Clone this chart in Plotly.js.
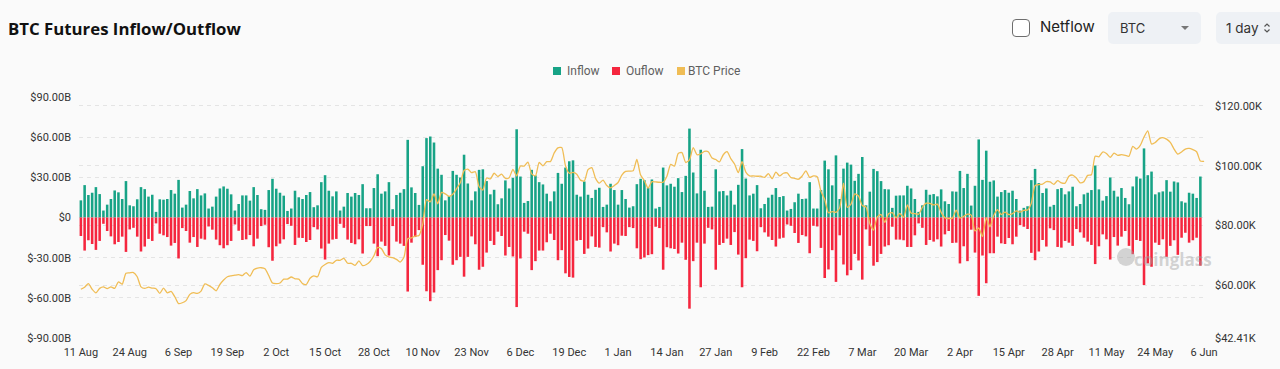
<!DOCTYPE html>
<html>
<head>
<meta charset="utf-8">
<script src="https://cdn.plot.ly/plotly-3.0.1.min.js"></script>
<style>
html,body{margin:0;padding:0;background:#fafafa;}
#wrap{position:relative;width:1280px;height:369px;overflow:hidden;background:#fafafa;}
#chart{position:absolute;left:0;top:0;width:1280px;height:369px;}
.ui{position:absolute;font-family:'Inter','Roboto',sans-serif;color:#222;}
#cb{left:1012px;top:19px;width:16px;height:16px;border:1.5px solid #6e6e6e;border-radius:4px;background:#fff;}
#nf{left:1040px;top:17px;font-size:15px;line-height:20px;}
#sel1{left:1108px;top:12px;width:93px;height:32px;background:#eef1f5;border-radius:5px;}
#sel1 span{position:absolute;left:12px;top:8px;font-size:13px;line-height:16px;color:#333;}
#sel1 i{position:absolute;left:73px;top:14px;width:0;height:0;border-left:4px solid transparent;border-right:4px solid transparent;border-top:4px solid #777;}
#sel2{left:1216px;top:12px;width:80px;height:32px;background:#eef1f5;border-radius:5px;}
#sel2 span{position:absolute;left:10px;top:8px;font-size:13.5px;line-height:16px;color:#333;}
#sel2 svg{position:absolute;left:47px;top:10px;}
</style>
</head>
<body>
<div id="wrap">
  <div id="chart"></div>
  <div class="ui" id="cb"></div>
  <div class="ui" id="nf">Netflow</div>
  <div class="ui" id="sel1"><span>BTC</span><i></i></div>
  <div class="ui" id="sel2"><span>1 day</span>
    <svg width="8" height="12" viewBox="0 0 8 12"><path d="M1.5 4.5 L4 2 L6.5 4.5 M1.5 7.5 L4 10 L6.5 7.5" fill="none" stroke="#555" stroke-width="1.2"/></svg>
  </div>
</div>
<script>
// ---- data (billions USD, K USD) ----
const startDate = '2024-08-11';

const inflow = [
12.8,24.2,16.8,18.5,22.7,17.5,5.2,9.6,13.8,20.2,18.8,13.8,27.2,9.1,8.4,13.6,22.7,21.2,15.6,17.0,4.2,13.6,13.3,13.8,20.5,17.8,28.1,7.4,9.6,19.8,14.3,21.2,16.5,18.0,6.7,8.1,15.6,
21.7,23.2,21.5,17.3,5.2,10.1,16.5,16.5,12.6,22.7,16.8,6.2,5.7,20.5,28.9,21.5,18.5,16.3,4.9,6.7,20.0,15.1,13.8,16.8,19.0,7.7,9.1,26.4,31.6,20.0,15.8,19.5,5.2,8.1,18.3,15.6,18.3,
16.8,24.9,6.9,6.9,22.0,32.3,17.8,19.5,26.4,6.2,16.8,18.5,21.2,58.0,22.5,18.3,9.4,38.3,59.3,60.5,56.0,36.5,31.9,12.8,16.0,34.8,31.9,29.9,46.9,25.4,12.8,19.5,35.6,36.0,27.2,17.3,20.7,
9.9,14.3,27.7,21.7,29.6,65.9,30.6,10.9,12.3,35.6,31.4,26.4,24.7,17.8,12.1,19.5,33.3,25.2,37.3,42.0,42.7,17.0,15.6,26.9,17.0,14.6,20.7,22.2,7.9,9.6,25.2,20.5,9.6,20.5,13.8,7.4,8.4,
24.9,28.9,27.9,22.2,28.4,6.7,7.9,37.3,24.0,25.2,23.0,29.4,19.0,31.1,66.4,33.6,18.0,50.6,20.0,7.9,8.1,36.0,19.5,19.8,16.5,20.0,9.6,24.4,51.1,29.1,16.5,17.8,24.2,6.9,10.1,14.8,17.0,22.0,
15.3,16.0,5.2,6.4,11.4,17.8,13.8,14.1,26.4,6.7,6.7,20.5,42.5,36.0,24.0,46.4,13.8,36.5,41.0,39.5,27.4,32.6,45.2,9.1,19.3,36.3,34.6,27.2,21.2,21.0,7.2,16.3,16.5,16.5,23.7,21.7,13.8,
4.2,9.1,20.7,17.0,17.5,15.8,21.0,12.1,10.1,19.5,19.3,34.8,22.0,32.6,8.9,23.7,58.3,28.1,49.9,26.7,27.7,15.6,19.0,20.5,18.5,20.0,13.8,5.2,7.2,8.4,27.9,36.3,25.7,18.3,21.7,8.1,9.4,21.2,
22.0,17.3,19.5,23.0,8.4,10.1,17.3,18.5,20.5,38.8,21.0,12.6,16.0,29.9,20.0,15.6,22.0,14.6,9.9,23.2,30.6,29.1,51.6,31.6,34.3,17.3,18.8,19.5,27.9,19.3,26.9,26.2,12.1,11.1,18.5,17.8,14.6,30.6
];

const outflow = [
13.8,24.7,17.0,19.8,24.2,17.5,4.7,10.1,14.1,20.0,18.3,14.3,25.7,8.9,7.7,14.3,25.4,21.7,16.0,17.5,4.4,12.1,13.3,14.6,21.0,19.0,30.6,7.9,10.1,18.8,14.6,22.0,15.8,16.5,6.7,9.1,16.5,
20.7,23.0,20.7,17.5,5.2,9.9,16.8,16.3,13.1,21.5,15.8,6.4,5.4,22.2,32.3,21.5,19.5,16.3,4.9,6.2,20.5,15.1,15.3,18.3,16.8,7.2,8.9,23.2,31.4,19.5,16.5,16.0,4.7,7.7,16.5,19.0,20.0,
16.3,26.9,6.4,6.4,19.5,28.9,18.0,21.2,28.4,6.4,18.0,19.5,21.2,55.3,18.8,14.6,9.4,35.3,55.1,62.5,56.0,39.3,31.9,13.1,17.3,35.3,31.9,29.4,44.2,29.4,14.1,20.0,39.0,36.8,26.2,17.5,20.5,
10.6,13.8,28.4,22.0,29.1,66.9,30.6,10.6,12.1,39.3,32.6,24.7,24.7,18.5,12.1,16.8,31.9,24.4,41.7,44.4,44.9,17.3,16.8,27.2,23.2,14.1,22.0,22.5,7.2,11.1,25.4,19.5,20.7,13.6,13.8,7.2,7.9,
23.0,31.1,29.9,28.1,27.4,6.9,7.9,39.0,22.2,23.0,23.5,26.9,18.8,31.6,68.1,32.6,18.8,52.1,19.5,7.7,8.9,39.0,20.5,19.0,15.8,20.5,10.9,27.7,52.1,30.4,16.5,17.5,25.2,7.2,11.1,14.3,16.8,21.7,
15.8,15.1,5.2,6.2,11.6,19.0,13.1,14.1,26.7,6.2,6.7,22.7,45.2,38.8,24.4,48.1,13.3,35.1,43.2,39.3,27.2,32.1,46.4,8.9,21.2,36.0,33.3,27.2,21.7,20.7,6.9,16.5,16.5,17.0,22.0,22.0,13.3,
4.4,7.7,20.5,16.8,18.0,16.3,21.7,12.6,10.1,19.0,18.8,34.3,21.5,32.6,9.1,26.2,58.5,28.4,49.1,26.7,26.7,14.3,19.3,19.8,15.3,20.0,14.3,5.7,6.9,8.6,26.4,31.9,25.4,16.8,21.7,8.1,9.4,22.0,
22.5,17.5,18.8,21.2,8.6,11.1,15.1,18.0,20.5,34.8,21.5,12.6,16.3,31.4,14.6,21.0,14.3,10.1,21.2,27.4,16.8,17.5,50.4,34.3,36.8,18.8,20.5,16.3,29.4,21.2,17.0,27.9,15.1,11.4,18.8,17.0,15.1,36.0
];

const btcPrice = [
58.7,59.4,60.6,58.7,57.5,59.0,59.5,58.9,59.5,59.0,
61.2,60.4,64.1,64.2,64.3,62.9,59.5,59.0,59.4,59.1,
58.9,57.3,59.1,57.5,58.0,56.2,53.9,54.2,54.9,57.0,
57.6,57.3,58.1,60.5,60.0,59.2,58.2,60.3,61.8,62.9,
63.2,63.4,63.6,63.3,64.3,63.1,65.2,65.8,65.9,65.6,
63.3,60.8,60.6,60.8,62.1,62.1,62.8,62.2,62.1,60.6,
60.3,62.4,63.2,62.9,66.0,67.0,67.6,67.4,68.4,68.4,
69.0,67.4,67.4,66.7,68.2,66.6,67.0,68.0,69.9,72.7,
72.3,70.2,69.5,69.3,68.7,67.8,69.4,75.6,75.9,76.5,
76.7,80.5,88.7,87.9,90.6,87.3,91.1,90.6,89.8,90.5,
92.3,94.3,98.4,98.9,97.7,98.0,93.0,91.9,95.9,95.6,
97.5,96.4,97.2,95.8,96.0,98.8,96.6,99.9,99.9,101.2,
97.3,96.6,101.1,100.0,101.4,101.4,104.3,106.0,106.1,100.0,
97.5,97.8,97.2,95.2,94.9,98.7,99.4,95.8,94.2,95.2,
93.4,92.6,93.4,94.4,96.9,98.1,98.2,98.3,102.1,96.9,
95.0,92.5,94.7,94.6,94.5,94.5,96.5,100.5,99.9,104.1,
104.4,101.1,102.0,106.1,103.7,104.0,104.8,104.7,102.6,102.1,
101.3,103.7,104.7,102.4,100.6,97.7,101.4,97.9,96.6,96.6,
96.5,96.5,96.1,97.4,95.7,97.9,96.6,97.5,97.6,96.1,
95.8,95.5,96.6,98.3,96.1,96.6,96.3,91.5,88.7,84.3,
84.7,84.4,86.0,94.2,86.1,87.2,90.6,89.9,86.7,86.2,
80.7,78.5,82.9,83.7,81.1,84.0,84.3,82.6,84.1,82.7,
86.9,84.2,84.0,83.8,86.1,87.5,87.4,86.9,87.2,84.4,
82.6,82.3,82.5,85.2,82.5,83.1,83.8,83.5,78.2,79.2,
76.3,82.6,79.6,83.4,85.3,83.7,84.5,83.7,84.0,84.9,
84.5,85.1,85.2,87.5,93.4,93.7,93.9,94.7,94.6,93.8,
95.0,94.3,94.2,96.5,96.9,95.9,94.3,94.7,96.8,97.0,
103.2,103.0,104.6,104.1,102.8,104.2,103.5,103.7,103.5,103.2,
106.5,105.6,106.8,109.6,111.7,107.3,107.8,109.0,109.4,108.9,
107.8,105.6,103.9,104.6,105.6,105.8,105.4,104.7,101.6,101.5
];

const tickDates = ['2024-08-11','2024-08-24','2024-09-06','2024-09-19','2024-10-02','2024-10-15','2024-10-28','2024-11-10','2024-11-23','2024-12-06','2024-12-19','2025-01-01','2025-01-14','2025-01-27','2025-02-09','2025-02-22','2025-03-07','2025-03-20','2025-04-02','2025-04-15','2025-04-28','2025-05-11','2025-05-24','2025-06-06'];
const tickLabels = ['11 Aug','24 Aug','6 Sep','19 Sep','2 Oct','15 Oct','28 Oct','10 Nov','23 Nov','6 Dec','19 Dec','1 Jan','14 Jan','27 Jan','9 Feb','22 Feb','7 Mar','20 Mar','2 Apr','15 Apr','28 Apr','11 May','24 May','6 Jun'];

const flowTicks = [-90,-60,-30,0,30,60,90];
const flowTickText = ['$-90.00B','$-60.00B','$-30.00B','$0','$30.00B','$60.00B','$90.00B'];
const priceTicks = [42.41,60,80,100,120];
const priceTickText = ['$42.41K','$60.00K','$80.00K','$100.00K','$120.00K'];

const legendNames = ['Inflow','Ouflow','BTC Price'];

// ---- helpers ----
function dayStr(i){
  const p = startDate.split('-').map(Number);
  const d = new Date(Date.UTC(p[0], p[1]-1, p[2] + i));
  return d.toISOString().slice(0,10);
}
const barDates = inflow.map((_, i) => dayStr(i));
const priceDates = btcPrice.map((_, i) => dayStr(i));

const GREEN = '#17a386', RED = '#f5263e', GOLD = '#f0bd55';
const tickFont = {family:'Roboto, sans-serif', size:11, color:'#333'};
const colors = [GREEN, RED, GOLD];

// plot box in px (for legend / watermark placement)
const W = 1280, H = 369, ML = 79, MR = 74, MT = 97, MB = 31;
const PW = W - ML - MR, PH = H - MT - MB;
const px2x = x => (x - ML) / PW;
const px2y = y => (H - MB - y) / PH;

const traces = [
  {type:'bar', name:legendNames[0], x:barDates, y:inflow, marker:{color:GREEN, line:{width:0}}, hovertemplate:'%{x}<br>Inflow $%{y}B<extra></extra>'},
  {type:'bar', name:legendNames[1], x:barDates, y:outflow.map(v => -v), marker:{color:RED, line:{width:0}}, hovertemplate:'%{x}<br>Outflow $%{y}B<extra></extra>'},
  {type:'scatter', mode:'lines', name:legendNames[2], x:priceDates, y:btcPrice, yaxis:'y2',
   line:{color:GOLD, width:1.3, shape:'spline', smoothing:0.6}, hovertemplate:'%{x}<br>$%{y}K<extra></extra>'}
];

// legend (square swatches like the original)
const legSquareX = [553, 612, 677];
const legTextX = [565, 624, 686];
const legShapes = legSquareX.map((x, i) => ({type:'rect', xref:'paper', yref:'paper', layer:'above',
  x0:px2x(x), x1:px2x(x+8), y0:px2y(75), y1:px2y(67), fillcolor:colors[i], line:{width:0}}));
const legAnn = legendNames.map((t, i) => ({xref:'paper', yref:'paper', x:px2x(legTextX[i]), y:px2y(71), text:t,
  showarrow:false, xanchor:'left', yanchor:'middle', font:{family:'Roboto, sans-serif', size:12, color:'#5f5f5f'}}));

const layout = {
  width:W, height:H,
  paper_bgcolor:'#fafafa', plot_bgcolor:'#fafafa',
  margin:{l:ML, r:MR, t:MT, b:MB, pad:0},
  barmode:'relative', bargap:0.32,
  title:{text:'BTC Futures Inflow/Outflow', xref:'container', x:8/W, xanchor:'left', yref:'container', y:1-29/H, yanchor:'middle',
         font:{family:'Open Sans, sans-serif', size:16.8, color:'#111', weight:700}},
  showlegend:false,
  xaxis:{type:'date', range:['2024-08-10 12:00','2025-06-06 12:00'], tickvals:tickDates, ticktext:tickLabels,
         tickfont:tickFont, showgrid:false, zeroline:false, showline:false, ticks:'', ticklabelstandoff:6, fixedrange:true},
  yaxis:{range:[-90,90], tickvals:flowTicks, ticktext:flowTickText, tickfont:tickFont,
         showgrid:true, gridcolor:'#e4e4e4', griddash:'4px,4px', gridwidth:1, zeroline:false, showline:false, ticks:'', ticklabelstandoff:7},
  yaxis2:{overlaying:'y', side:'right', range:[42.41, 123.0], tickvals:priceTicks, ticktext:priceTickText, tickfont:tickFont,
          showgrid:true, gridcolor:'#e4e4e4', griddash:'4px,4px', gridwidth:1, zeroline:false, showline:false, ticks:'', ticklabelstandoff:8},
  shapes: legShapes.concat([
    {type:'circle', xref:'paper', yref:'paper', layer:'above', x0:px2x(1117), x1:px2x(1135), y0:px2y(266), y1:px2y(248),
     fillcolor:'rgba(165,165,165,0.45)', line:{width:0}}
  ]),
  annotations: legAnn.concat([
    {xref:'paper', yref:'paper', x:px2x(1173), y:px2y(259), text:'coinglass', showarrow:false,
     font:{family:'Open Sans, sans-serif', size:17, color:'rgba(160,160,160,0.45)', weight:700}, xanchor:'center', yanchor:'middle'}
  ])
};

Plotly.newPlot('chart', traces, layout, {displayModeBar:false, staticPlot:true});
</script>
</body>
</html>
